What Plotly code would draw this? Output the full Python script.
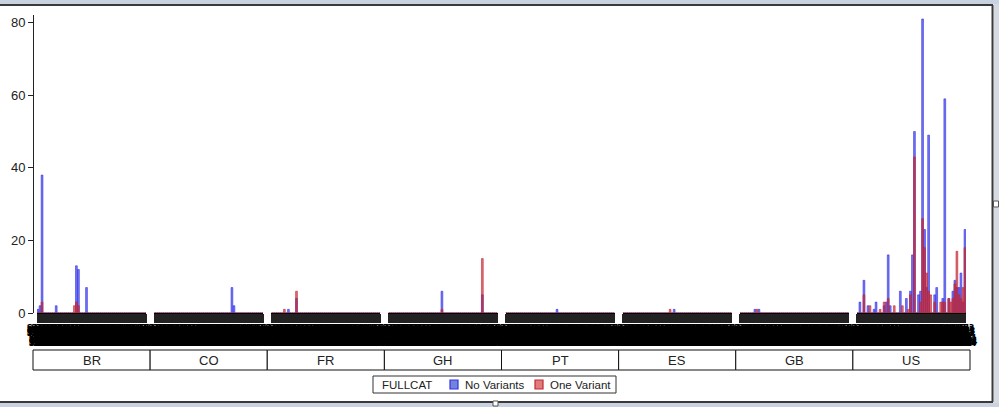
import plotly.graph_objects as go

# ---------------- data ----------------
PANELS = ["BR", "CO", "FR", "GH", "PT", "ES", "GB", "US"]
CATEGORIES = [f"S{n:03d}" for n in range(101, 155)]  # 54 shared categories (labels unreadable in source)

NO_VARIANTS = {
    "BR": [1, 2, 38, 0, 0, 0, 0, 0, 0, 2,
           0, 0, 0, 0, 0, 0, 0, 0, 0, 13,
           12, 0, 0, 0, 7, 0, 0, 0, 0, 0,
           0, 0, 0, 0, 0, 0, 0, 0, 0, 0,
           0, 0, 0, 0, 0, 0, 0, 0, 0, 0,
           0, 0, 0, 0],
    "CO": [0, 0, 0, 0, 0, 0, 0, 0, 0, 0,
           0, 0, 0, 0, 0, 0, 0, 0, 0, 0,
           0, 0, 0, 0, 0, 0, 0, 0, 0, 0,
           0, 0, 0, 0, 0, 0, 0, 0, 7, 2,
           0, 0, 0, 0, 0, 0, 0, 0, 0, 0,
           0, 0, 0, 0],
    "FR": [0, 0, 0, 0, 0, 0, 0, 0, 1, 0,
           0, 0, 4, 0, 0, 0, 0, 0, 0, 0,
           0, 0, 0, 0, 0, 0, 0, 0, 0, 0,
           0, 0, 0, 0, 0, 0, 0, 0, 0, 0,
           0, 0, 0, 0, 0, 0, 0, 0, 0, 0,
           0, 0, 0, 0],
    "GH": [0, 0, 0, 0, 0, 0, 0, 0, 0, 0,
           0, 0, 0, 0, 0, 0, 0, 0, 0, 0,
           0, 0, 0, 0, 0, 0, 6, 0, 0, 0,
           0, 0, 0, 0, 0, 0, 0, 0, 0, 0,
           0, 0, 0, 0, 0, 0, 5, 0, 0, 0,
           0, 0, 0, 0],
    "PT": [0, 0, 0, 0, 0, 0, 0, 0, 0, 0,
           0, 0, 0, 0, 0, 0, 0, 0, 0, 0,
           0, 0, 0, 0, 0, 1, 0, 0, 0, 0,
           0, 0, 0, 0, 0, 0, 0, 0, 0, 0,
           0, 0, 0, 0, 0, 0, 0, 0, 0, 0,
           0, 0, 0, 0],
    "ES": [0, 0, 0, 0, 0, 0, 0, 0, 0, 0,
           0, 0, 0, 0, 0, 0, 0, 0, 0, 0,
           0, 0, 0, 0, 0, 1, 0, 0, 0, 0,
           0, 0, 0, 0, 0, 0, 0, 0, 0, 0,
           0, 0, 0, 0, 0, 0, 0, 0, 0, 0,
           0, 0, 0, 0],
    "GB": [0, 0, 0, 0, 0, 0, 0, 1, 0, 1,
           0, 0, 0, 0, 0, 0, 0, 0, 0, 0,
           0, 0, 0, 0, 0, 0, 0, 0, 0, 0,
           0, 0, 0, 0, 0, 0, 0, 0, 0, 0,
           0, 0, 0, 0, 0, 0, 0, 0, 0, 0,
           0, 0, 0, 0],
    "US": [0, 3, 0, 9, 0, 2, 0, 0, 1, 3,
           0, 0, 0, 2, 3, 16, 2, 0, 0, 0,
           0, 6, 0, 0, 4, 0, 6, 16, 50, 0,
           5, 6, 81, 23, 7, 49, 0, 0, 5, 7,
           0, 0, 4, 59, 0, 4, 0, 6, 9, 7,
           7, 11, 3, 23],
}

ONE_VARIANT = {
    "BR": [0, 0, 3, 0, 0, 0, 0, 0, 0, 0,
           0, 0, 0, 0, 0, 0, 0, 0, 2, 3,
           2, 0, 0, 0, 0, 0, 0, 0, 0, 0,
           0, 0, 0, 0, 0, 0, 0, 0, 0, 0,
           0, 0, 0, 0, 0, 0, 0, 0, 0, 0,
           0, 0, 0, 0],
    "CO": [0, 0, 0, 0, 0, 0, 0, 0, 0, 0,
           0, 0, 0, 0, 0, 0, 0, 0, 0, 0,
           0, 0, 0, 0, 0, 0, 0, 0, 0, 0,
           0, 0, 0, 0, 0, 0, 0, 0, 0, 0,
           0, 0, 0, 0, 0, 0, 0, 0, 0, 0,
           0, 0, 0, 0],
    "FR": [0, 0, 0, 0, 0, 0, 1, 0, 0, 0,
           0, 0, 6, 0, 0, 0, 0, 0, 0, 0,
           0, 0, 0, 0, 0, 0, 0, 0, 0, 0,
           0, 0, 0, 0, 0, 0, 0, 0, 0, 0,
           0, 0, 0, 0, 0, 0, 0, 0, 0, 0,
           0, 0, 0, 0],
    "GH": [0, 0, 0, 0, 0, 0, 0, 0, 0, 0,
           0, 0, 0, 0, 0, 0, 0, 0, 0, 0,
           0, 0, 0, 0, 0, 0, 1, 0, 0, 0,
           0, 0, 0, 0, 0, 0, 0, 0, 0, 0,
           0, 0, 0, 0, 0, 0, 15, 0, 0, 0,
           0, 0, 0, 0],
    "PT": [0, 0, 0, 0, 0, 0, 0, 0, 0, 0,
           0, 0, 0, 0, 0, 0, 0, 0, 0, 0,
           0, 0, 0, 0, 0, 0, 0, 0, 0, 0,
           0, 0, 0, 0, 0, 0, 0, 0, 0, 0,
           0, 0, 0, 0, 0, 0, 0, 0, 0, 0,
           0, 0, 0, 0],
    "ES": [0, 0, 0, 0, 0, 0, 0, 0, 0, 0,
           0, 0, 0, 0, 0, 0, 0, 0, 0, 0,
           0, 0, 0, 1, 0, 0, 0, 0, 0, 0,
           0, 0, 0, 0, 0, 0, 0, 0, 0, 0,
           0, 0, 0, 0, 0, 0, 0, 0, 0, 0,
           0, 0, 0, 0],
    "GB": [0, 0, 0, 0, 0, 0, 0, 0, 1, 0,
           0, 0, 0, 0, 0, 0, 0, 0, 0, 0,
           0, 0, 0, 0, 0, 0, 0, 0, 0, 0,
           0, 0, 0, 0, 0, 0, 0, 0, 0, 0,
           0, 0, 0, 0, 0, 0, 0, 0, 0, 0,
           0, 0, 0, 0],
    "US": [0, 0, 0, 5, 0, 0, 2, 0, 0, 0,
           0, 1, 0, 3, 0, 4, 0, 0, 2, 0,
           0, 0, 2, 0, 0, 1, 5, 0, 43, 0,
           0, 3, 26, 18, 11, 6, 5, 0, 3, 0,
           0, 3, 3, 3, 0, 4, 3, 4, 8, 17,
           5, 4, 7, 18],
}

Y_TICKS = [0, 20, 40, 60, 80]
LEGEND_TITLE = "FULLCAT"
SERIES_NAMES = ["No Variants", "One Variant"]

# ---------------- styling / geometry ----------------
W, H = 999, 407
FONT = "Liberation Sans, Arial, sans-serif"
TICK_FONT = "DejaVu Sans, Liberation Sans, sans-serif"
BLUE_FILL, BLUE_LINE = "rgba(45,45,235,0.65)", "rgb(50,50,230)"
RED_FILL, RED_LINE = "rgba(200,35,45,0.65)", "rgb(195,40,50)"
LEG_BLUE_FILL, LEG_RED_FILL = "rgba(90,110,215,0.85)", "rgba(220,110,110,0.9)"
# heavy over-printing of the crowded tick labels (as in the SAS output)
TICK_SHADOW = "0px 2px 0px #000, 0px -2px 0px #000, 0px 3px 0px #000, 1px 1px 0px #000"


def px(x):
    return x / W


def py(y):
    return 1 - y / H


CELL_L, CELL_R = 33, 970
CELL_W = (CELL_R - CELL_L) / len(PANELS)
Y_BASE, Y_TOP = 313, 15

# staggered tick labels (two rows)
tick_text = [("<b>%s</b>" % c) if k % 2 == 0 else "<br><b>%s</b>" % c
             for k, c in enumerate(CATEGORIES)]

fig = go.Figure()
layout = {}
for i, p in enumerate(PANELS):
    ax = "x" if i == 0 else f"x{i + 1}"
    key = "xaxis" if i == 0 else f"xaxis{i + 1}"
    fig.add_trace(go.Bar(
        x=CATEGORIES, y=NO_VARIANTS[p], xaxis=ax, yaxis="y",
        name=SERIES_NAMES[0], legendgroup="nv", showlegend=False,
        marker=dict(color=BLUE_FILL, line=dict(color=BLUE_LINE, width=0.6)),
    ))
    fig.add_trace(go.Bar(
        x=CATEGORIES, y=ONE_VARIANT[p], xaxis=ax, yaxis="y",
        name=SERIES_NAMES[1], legendgroup="ov", showlegend=False,
        marker=dict(color=RED_FILL, line=dict(color=RED_LINE, width=0.6)),
    ))
    left = CELL_L + i * CELL_W + 4
    right = CELL_L + (i + 1) * CELL_W - 4
    layout[key] = dict(
        domain=[px(left), px(right)], anchor="y", type="category",
        categoryorder="array", categoryarray=CATEGORIES,
        range=[-0.5, len(CATEGORIES) - 0.5],
        showline=True, linecolor="black", linewidth=1,
        ticks="outside", ticklen=9, tickwidth=2.6, tickcolor="#222222",
        tickmode="array", tickvals=CATEGORIES, ticktext=tick_text,
        tickangle=0,
        tickfont=dict(size=8, family=TICK_FONT, color="black", shadow=TICK_SHADOW),
        showgrid=False, zeroline=False, fixedrange=True, automargin=False,
    )

layout["yaxis"] = dict(
    domain=[py(Y_BASE), py(Y_TOP)], range=[0, 82.1],
    anchor="free", position=px(33),
    showline=True, linecolor="#222", linewidth=1,
    ticks="outside", ticklen=5, tickcolor="#222",
    tickmode="array", tickvals=Y_TICKS,
    tickfont=dict(size=13, family=FONT, color="#222"),
    showgrid=False, zeroline=False, automargin=False, fixedrange=True,
)

shapes = []
annotations = []
# panel label cells
for i, p in enumerate(PANELS):
    x0 = CELL_L + i * CELL_W
    x1 = x0 + CELL_W
    shapes.append(dict(type="rect", xref="paper", yref="paper",
                       x0=px(x0), x1=px(x1), y0=py(370), y1=py(350),
                       line=dict(color="#111", width=1), fillcolor="white"))
    annotations.append(dict(text=p, xref="paper", yref="paper",
                            x=px((x0 + x1) / 2), y=py(360), showarrow=False,
                            xanchor="center", yanchor="middle",
                            font=dict(size=13, family=FONT, color="#222")))

# legend (drawn as a compact SAS-style box)
shapes.append(dict(type="rect", xref="paper", yref="paper",
                   x0=px(373), x1=px(616), y0=py(393), y1=py(376),
                   line=dict(color="#333", width=1), fillcolor="white"))
annotations.append(dict(text=LEGEND_TITLE, xref="paper", yref="paper",
                        x=px(380), y=py(384.5), showarrow=False,
                        xanchor="left", yanchor="middle",
                        font=dict(size=11.5, family=FONT, color="#222")))
for (sx, tx, name, fill, line) in [
    (450, 463, SERIES_NAMES[0], LEG_BLUE_FILL, BLUE_LINE),
    (535, 548, SERIES_NAMES[1], LEG_RED_FILL, RED_LINE),
]:
    shapes.append(dict(type="rect", xref="paper", yref="paper",
                       x0=px(sx), x1=px(sx + 8), y0=py(389), y1=py(380),
                       fillcolor=fill, line=dict(color=line, width=1.2)))
    annotations.append(dict(text=name, xref="paper", yref="paper",
                            x=px(tx), y=py(384.5), showarrow=False,
                            xanchor="left", yanchor="middle",
                            font=dict(size=11.5, family=FONT, color="#222")))

# window frame around the picture
chrome_light = "#c8d2e1"
shapes += [
    dict(type="rect", xref="paper", yref="paper", x0=0, x1=1, y0=py(4), y1=1,
         fillcolor=chrome_light, line=dict(width=0)),
    dict(type="line", xref="paper", yref="paper", x0=0, x1=px(993), y0=py(5), y1=py(5),
         line=dict(color="#3a3a3a", width=2)),
    dict(type="rect", xref="paper", yref="paper", x0=px(993.5), x1=1, y0=0, y1=py(4),
         fillcolor="#d5dae2", line=dict(width=0)),
    dict(type="line", xref="paper", yref="paper", x0=px(992.5), x1=px(992.5), y0=py(402), y1=py(5),
         line=dict(color="#3a3a3a", width=2)),
    dict(type="rect", xref="paper", yref="paper", x0=0, x1=1, y0=0, y1=py(403),
         fillcolor=chrome_light, line=dict(width=0)),
    dict(type="line", xref="paper", yref="paper", x0=0, x1=px(993), y0=py(402), y1=py(402),
         line=dict(color="#3a3a3a", width=2)),
    dict(type="rect", xref="paper", yref="paper", x0=px(993.5), x1=px(998.5), y0=py(207), y1=py(201),
         fillcolor="white", line=dict(color="#555", width=1)),
    dict(type="rect", xref="paper", yref="paper", x0=px(493), x1=px(498), y0=py(406), y1=py(401),
         fillcolor="white", line=dict(color="#555", width=1)),
]

fig.update_layout(
    **layout,
    width=W, height=H, autosize=False,
    margin=dict(l=0, r=0, t=0, b=0, pad=0, autoexpand=False),
    paper_bgcolor="white", plot_bgcolor="white",
    barmode="overlay", bargap=0.12,
    font=dict(family=FONT, color="#222"),
    shapes=shapes, annotations=annotations,
    showlegend=False,
)

fig.write_html(
    "out.html",
    config={"displayModeBar": False},
    post_script="document.body.style.margin='0px';document.body.style.overflow='hidden';",
)
